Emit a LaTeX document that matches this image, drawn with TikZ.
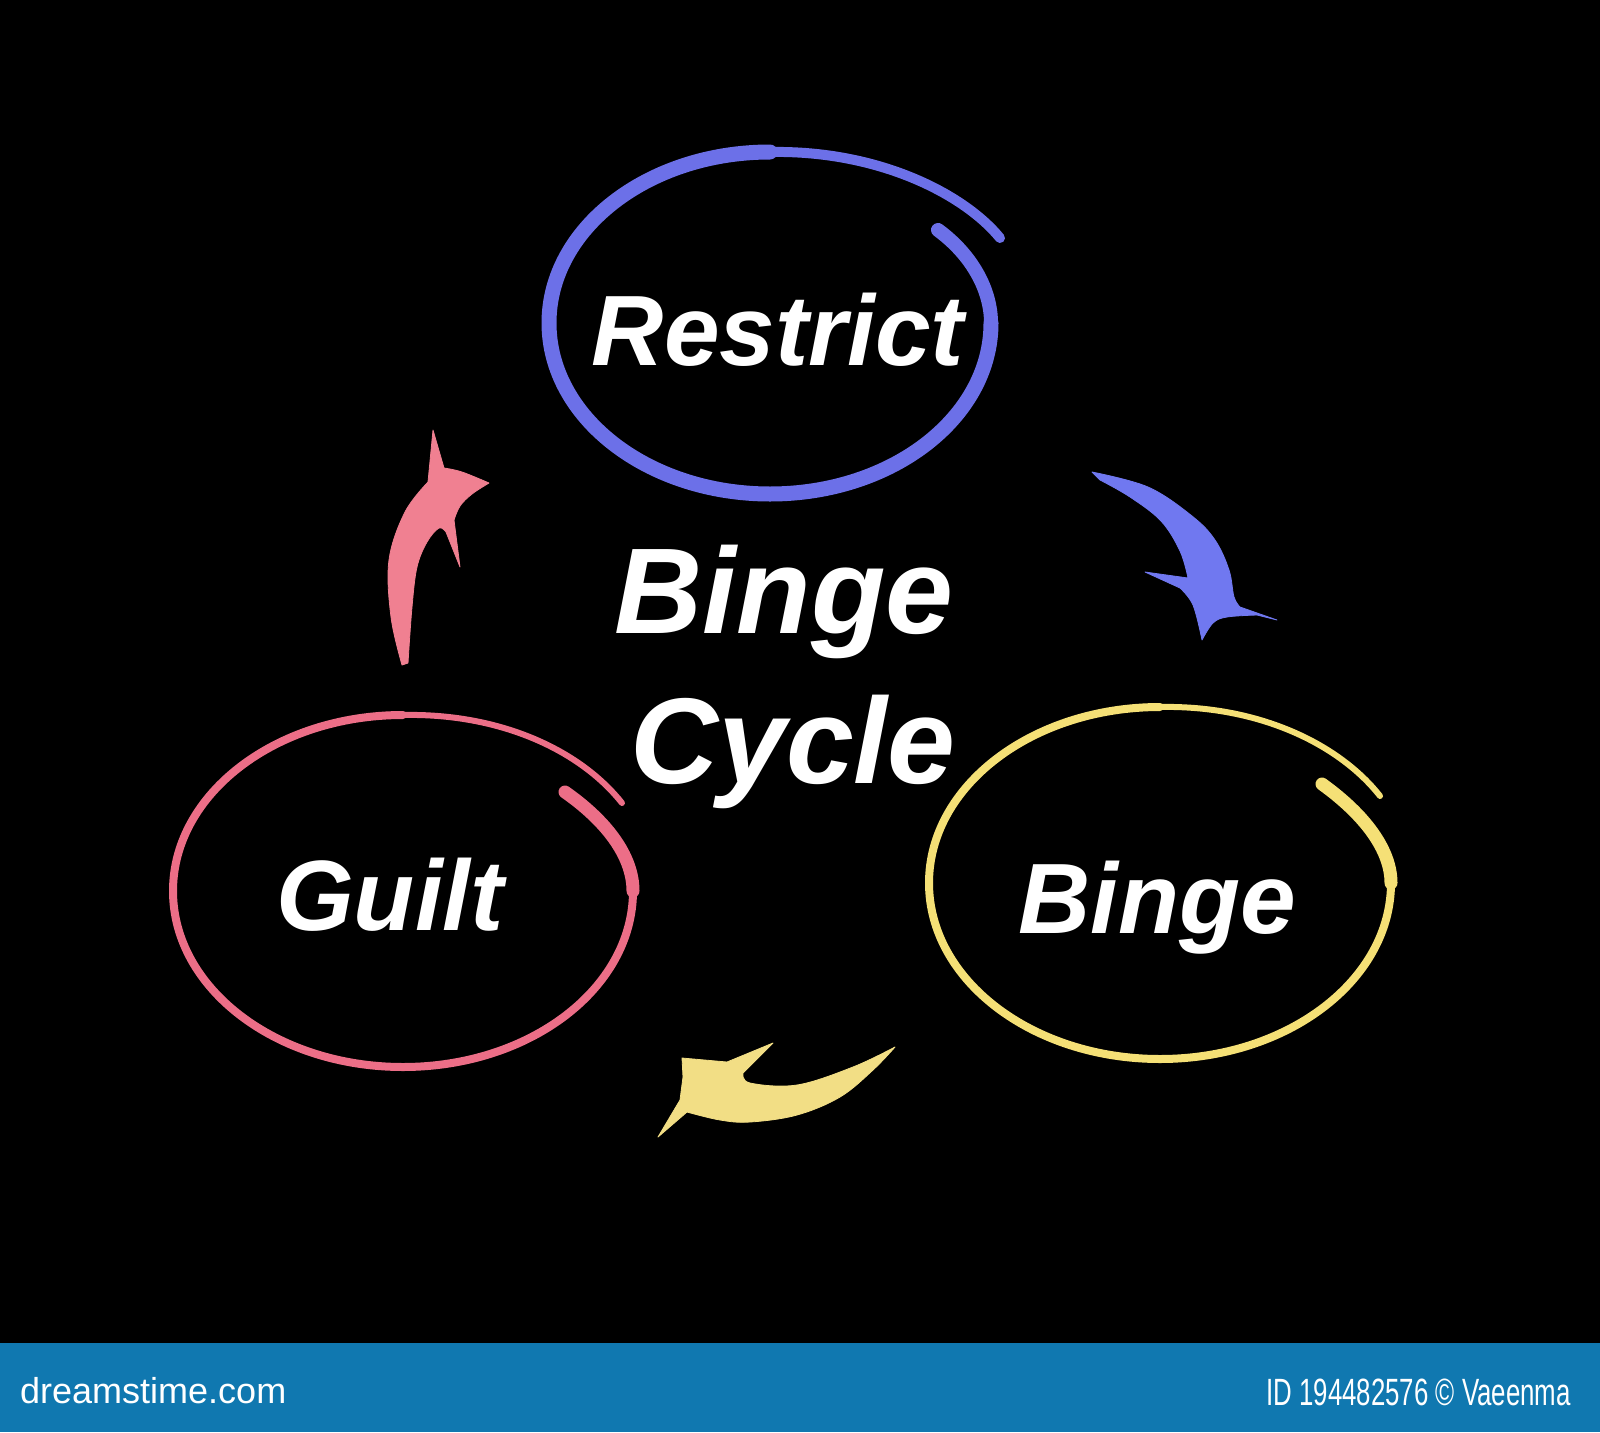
\documentclass[tikz,border=0pt]{standalone}
\usepackage{fontspec}
\usepackage{graphicx}
\setmainfont{Liberation Sans}
\definecolor{rblue}{RGB}{108,112,232}
\definecolor{gpink}{RGB}{236,110,135}
\definecolor{byellow}{RGB}{245,224,118}
\definecolor{apink}{RGB}{240,128,145}
\definecolor{ablue}{RGB}{112,120,240}
\definecolor{ayellow}{RGB}{242,222,133}
\definecolor{barblue}{RGB}{16,120,176}
\tikzset{
  label/.style={text=white, inner sep=0pt, anchor=base, font=\fontsize{100}{110}\selectfont\bfseries\itshape},
  title/.style={text=white, inner sep=0pt, anchor=base, font=\fontsize{122}{130}\selectfont\bfseries\itshape},
  ring/.style={line width=#1, line cap=round},
  swoosh/.style={fill=#1, draw=#1, line width=0.8, line join=round},
  bartext/.style={text=white, inner sep=0pt}
}
\begin{document}
\begin{tikzpicture}[x=1pt,y=-1pt]
\useasboundingbox (0,0) rectangle (1600,1432);
\fill[black] (0,0) rectangle (1600,1343);
\fill[barblue] (0,1343) rectangle (1600,1432);

% Restrict ellipse
\draw[ring=15, rblue] (991,323) arc[start angle=0, end angle=270, x radius=221, y radius=171];
\draw[ring=10, rblue] (770,152) .. controls (880,150) and (965,195) .. (1000,238);
\draw[ring=14, rblue] (938,230) .. controls (972,255) and (991,290) .. (991,323);

% Guilt ellipse
\draw[ring=8, gpink] (633,891) arc[start angle=0, end angle=270, x radius=230, y radius=176];
\draw[ring=6, gpink] (403,715) .. controls (500,713) and (580,750) .. (622,803);
\draw[ring=13, gpink] (565,792) .. controls (605,820) and (633,855) .. (633,891);

% Binge ellipse
\draw[ring=8, byellow] (1391,883) arc[start angle=0, end angle=270, x radius=231, y radius=176];
\draw[ring=6, byellow] (1160,707) .. controls (1260,705) and (1340,745) .. (1380,796);
\draw[ring=13, byellow] (1322,784) .. controls (1365,815) and (1391,850) .. (1391,883);

% labels
\node[label] (restrict) at (778,365) {Restrict};
\node[label] (guilt) at (390,930) {Guilt};
\node[label] (binge) at (1157,933) {Binge};
\node[title] (title1) at (784,633) {Binge};
\node[title] (title2) at (793,783) {Cycle};

% pink arrow (Guilt -> Restrict)
\fill[swoosh=apink] (433,430) -- plot[smooth, tension=.6] coordinates {(444,468) (462,472) (489,483)}
  -- plot[smooth, tension=.6] coordinates {(489,483) (472,494) (460,506) (454,520)}
  -- (460,567)
  -- plot[smooth, tension=.6] coordinates {(446,532) (439,528) (427,542) (417,567) (412,607) (408,663)}
  -- plot[smooth, tension=.6] coordinates {(402,665) (391,617) (389,560) (405,512) (428,482)}
  -- cycle;

% blue arrow (Restrict -> Binge)
\fill[swoosh=ablue] (1092,472)
  -- plot[smooth, tension=.6] coordinates {(1100,480) (1130,497) (1161,521) (1180,551) (1188,578)}
  -- (1145,572)
  -- plot[smooth, tension=.6] coordinates {(1180,588) (1193,605) (1202,640)}
  -- plot[smooth, tension=.6] coordinates {(1202,640) (1213,623) (1227,617) (1257,615)}
  -- (1277,620)
  -- plot[smooth, tension=.6] coordinates {(1240,607) (1234,597) (1229,570) (1215,540) (1192,516) (1148,487) (1092,472)}
  -- cycle;

% yellow arrow (Binge -> Guilt)
\fill[swoosh=ayellow] (682,1058)
  -- plot[smooth, tension=.6] coordinates {(683,1077) (680,1100)}
  -- (658,1137)
  -- plot[smooth, tension=.6] coordinates {(687,1112) (720,1120) (750,1122) (797,1115) (840,1097) (873,1070) (895,1047)}
  -- plot[smooth, tension=.6] coordinates {(895,1047) (853,1067) (797,1085) (750,1083) (743,1073)}
  -- (773,1043)
  -- plot[smooth, tension=.6] coordinates {(727,1062) (682,1058)}
  -- cycle;

% bottom bar texts
\node[bartext, anchor=base west, font=\fontsize{36}{40}\selectfont] (site) at (20,1403) {dreamstime.com};
\node[bartext, anchor=base east, font=\fontsize{38}{40}\selectfont] (credit) at (1571,1405) {\scalebox{0.68}[1]{ID 194482576 © Vaeenma}};
\end{tikzpicture}
\end{document}
